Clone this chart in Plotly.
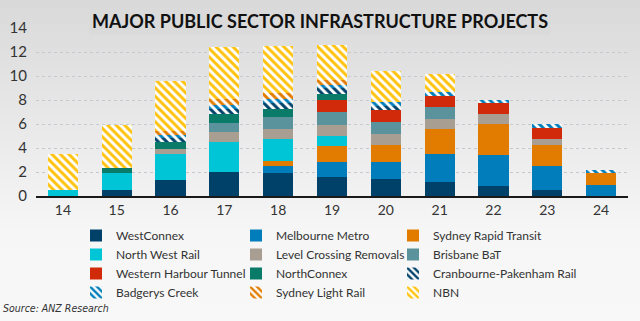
import base64
import plotly.graph_objects as go

years = ["14", "15", "16", "17", "18", "19", "20", "21", "22", "23", "24"]

westconnex = [0, 0.5, 1.33, 2.0, 1.94, 1.61, 1.4, 1.19, 0.83, 0.47, 0]
melbourne_metro = [0, 0, 0, 0, 0.56, 1.25, 1.47, 2.31, 2.58, 2.03, 0.92]
sydney_rapid_transit = [0, 0, 0, 0, 0.44, 1.31, 1.37, 2.11, 2.56, 1.78, 0.97]
north_west_rail = [0.5, 1.4, 2.17, 2.5, 1.84, 0.86, 0, 0, 0, 0, 0]
level_crossing = [0, 0, 0.39, 0.85, 0.8, 0.86, 0.9, 0.83, 0.86, 0.5, 0]
brisbane_bat = [0, 0, 0, 0.76, 1.0, 1.14, 1.03, 0.98, 0, 0, 0]
western_harbour = [0, 0, 0, 0, 0, 0.94, 0.97, 0.92, 0.89, 0.92, 0]
northconnex = [0, 0.47, 0.58, 0.73, 0.7, 0.56, 0, 0, 0, 0, 0]
cranbourne = [0, 0, 0.35, 0.45, 0.45, 0.45, 0.35, 0, 0, 0, 0]
badgerys = [0, 0, 0.3, 0.3, 0.35, 0.3, 0.35, 0.36, 0.28, 0.28, 0.28]
sydney_light_rail = [0, 0, 0.3, 0.5, 0.48, 0.4, 0, 0, 0, 0, 0]
nbn = [3.0, 3.55, 4.16, 4.33, 3.94, 2.91, 2.58, 1.47, 0, 0, 0]

# name, values, colour, hatched, legend column
series = [
    ("WestConnex", westconnex, "#00416a", False, "legend"),
    ("Melbourne Metro", melbourne_metro, "#007dba", False, "legend2"),
    ("Sydney Rapid Transit", sydney_rapid_transit, "#e27c00", False, "legend3"),
    ("North West Rail", north_west_rail, "#00c5d6", False, "legend"),
    ("Level Crossing Removals", level_crossing, "#a99e92", False, "legend2"),
    ("Brisbane BaT", brisbane_bat, "#5a939b", False, "legend3"),
    ("Western Harbour Tunnel", western_harbour, "#d12a0b", False, "legend"),
    ("NorthConnex", northconnex, "#0a7b68", False, "legend2"),
    ("Cranbourne-Pakenham Rail", cranbourne, "#00416a", True, "legend3"),
    ("Badgerys Creek", badgerys, "#007dba", True, "legend"),
    ("Sydney Light Rail", sydney_light_rail, "#e27c00", True, "legend2"),
    ("NBN", nbn, "#ffc20e", True, "legend3"),
]

FONT = "Lato"
fig = go.Figure()
for name, vals, color, hatch, leg in series:
    if hatch:
        marker = dict(color=color, line=dict(width=0),
                      pattern=dict(shape="\\", fgcolor=color, bgcolor="white",
                                   size=6, solidity=0.5, fillmode="replace"))
    else:
        marker = dict(color=color, line=dict(width=0))
    fig.add_bar(x=years, y=vals, name=name, marker=marker, legend=leg)

W, H = 640, 321
ml, mr, mt, mb = 36, 12, 28, 125
pw, ph = W - ml - mr, H - mt - mb

def px_x(p):
    return (p - ml) / pw

def px_y(p):
    return (H - mb - p) / ph

svg = ('<svg xmlns="http://www.w3.org/2000/svg" width="640" height="321" viewBox="0 0 640 321" '
       'preserveAspectRatio="none"><defs><linearGradient id="g" x1="0" y1="0" x2="0" y2="1">'
       '<stop offset="0" stop-color="#d9d9d9"/><stop offset="0.72" stop-color="#f6f6f6"/>'
       '<stop offset="1" stop-color="#f8f8f8"/></linearGradient></defs>'
       '<rect width="640" height="321" fill="url(#g)"/></svg>')
src = "data:image/svg+xml;base64," + base64.b64encode(svg.encode()).decode()

legend_top = 221
def leg(xpx):
    return dict(orientation="v", x=xpx / W, xref="container", xanchor="left",
                y=1 - legend_top / H, yref="container", yanchor="top",
                traceorder="normal", bgcolor="rgba(0,0,0,0)", borderwidth=0,
                font=dict(size=12, color="#333333", family=FONT))

fig.update_layout(
    width=W, height=H,
    margin=dict(l=ml, r=mr, t=mt, b=mb, autoexpand=False),
    barmode="stack", bargap=0.44,
    paper_bgcolor="#eeeeee", plot_bgcolor="rgba(0,0,0,0)",
    font=dict(family=FONT, color="#333333"),
    images=[dict(source=src, xref="paper", yref="paper", x=px_x(0), y=px_y(0),
                 sizex=W / pw, sizey=H / ph, xanchor="left", yanchor="top",
                 sizing="stretch", layer="below")],
    xaxis=dict(type="category", showline=True, linecolor="#1a1a1a", linewidth=1.5,
               ticks="", tickfont=dict(size=14, color="#333333"), showgrid=False),
    yaxis=dict(range=[0, 14], dtick=2, showgrid=True, gridcolor="#c4cacf",
               griddash="3px,3px", gridwidth=1, zeroline=False, ticks="",
               ticklabelstandoff=8, tickfont=dict(size=15, color="#333333")),
    legend=leg(76),
    legend2=leg(236),
    legend3=leg(393),
    showlegend=True,
    annotations=[
        dict(text="<b>MAJOR PUBLIC SECTOR INFRASTRUCTURE PROJECTS</b>", xref="paper", yref="paper",
             x=px_x(320), y=px_y(21), xanchor="center", yanchor="middle", showarrow=False,
             bgcolor="#dadada", borderpad=2,
             font=dict(size=18, color="#111111", family=FONT)),
        dict(text="<i>Source: ANZ Research</i>", xref="paper", yref="paper",
             x=px_x(1), y=px_y(308), xanchor="left", yanchor="middle", showarrow=False,
             font=dict(size=10.5, color="#333333", family="DejaVu Sans Condensed, Roboto, sans-serif")),
    ],
)

fig.write_html("out.html")
